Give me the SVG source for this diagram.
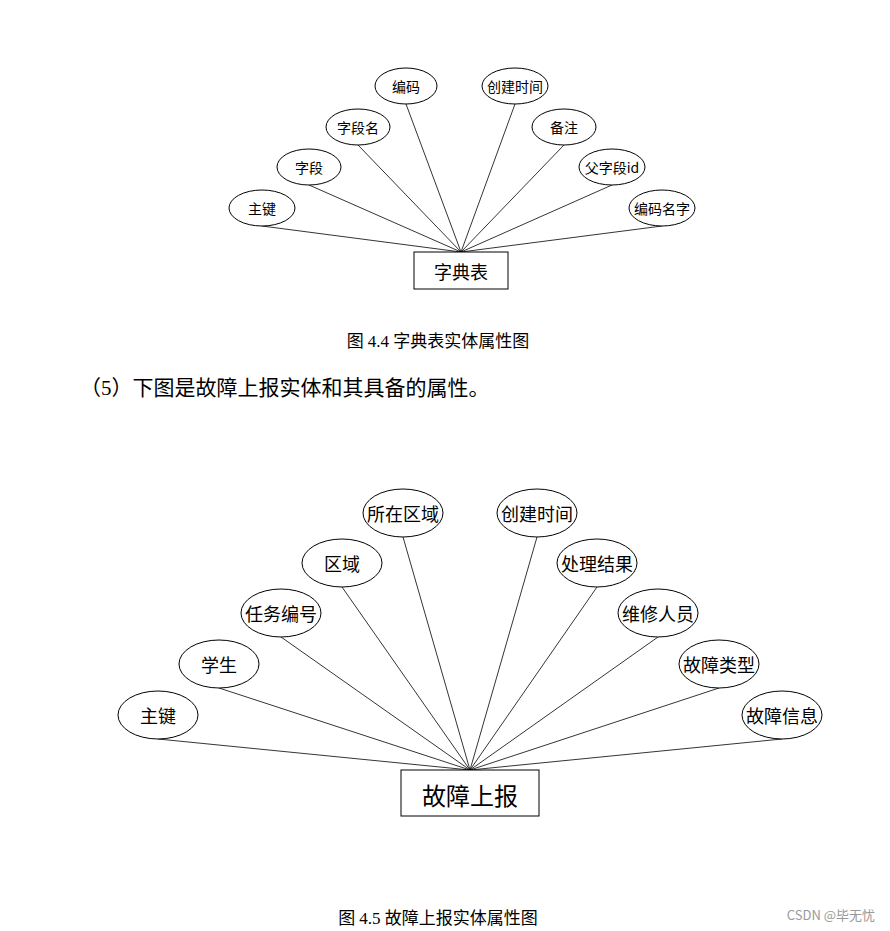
<svg xmlns="http://www.w3.org/2000/svg" width="890" height="931" viewBox="0 0 890 931">
<style>
.e{fill:#fff;stroke:#000;stroke-width:1}
.b{fill:#fff;stroke:#000;stroke-width:1}
.t{font-family:"Noto Sans CJK SC",sans-serif;text-anchor:middle;dominant-baseline:central;fill:#000}
.c{font-family:"Liberation Serif","Noto Sans CJK SC",serif;fill:#000}
#conn line{stroke:#000;stroke-width:0.8}
</style>
<rect width="890" height="931" fill="#fff"/>
<g id="conn">
<line x1="262" y1="226" x2="461" y2="252"/><line x1="309" y1="185" x2="461" y2="252"/>
<line x1="358" y1="145" x2="461" y2="252"/><line x1="406" y1="104" x2="461" y2="252"/>
<line x1="515" y1="104" x2="461" y2="252"/><line x1="564" y1="145" x2="461" y2="252"/>
<line x1="612" y1="185" x2="461" y2="252"/><line x1="662" y1="226" x2="461" y2="252"/>
<line x1="158" y1="739" x2="470" y2="770"/><line x1="219" y1="688" x2="470" y2="770"/>
<line x1="281" y1="637" x2="470" y2="770"/><line x1="342" y1="587" x2="470" y2="770"/>
<line x1="403" y1="537" x2="470" y2="770"/><line x1="537" y1="537" x2="470" y2="770"/>
<line x1="597" y1="587" x2="470" y2="770"/><line x1="658" y1="637" x2="470" y2="770"/>
<line x1="719" y1="688" x2="470" y2="770"/><line x1="782" y1="739" x2="470" y2="770"/>
</g>
<g id="n1"><ellipse class="e" cx="406" cy="86" rx="31" ry="18"/><text class="t" x="406" y="86" font-size="14">编码</text></g>
<g id="n2"><ellipse class="e" cx="515" cy="86" rx="33" ry="18"/><text class="t" x="515" y="86" font-size="14">创建时间</text></g>
<g id="n3"><ellipse class="e" cx="358" cy="127" rx="32" ry="18"/><text class="t" x="358" y="127" font-size="14">字段名</text></g>
<g id="n4"><ellipse class="e" cx="564" cy="127" rx="32" ry="18"/><text class="t" x="564" y="127" font-size="14">备注</text></g>
<g id="n5"><ellipse class="e" cx="309" cy="167" rx="32" ry="18"/><text class="t" x="309" y="167" font-size="14">字段</text></g>
<g id="n6"><ellipse class="e" cx="612" cy="167" rx="33" ry="18"/><text class="t" x="612" y="167" font-size="14">父字段id</text></g>
<g id="n7"><ellipse class="e" cx="262" cy="208" rx="33" ry="18"/><text class="t" x="262" y="208" font-size="14">主键</text></g>
<g id="n8"><ellipse class="e" cx="662" cy="208" rx="33" ry="18"/><text class="t" x="662" y="208" font-size="14">编码名字</text></g>
<g id="e1"><rect class="b" x="414" y="252" width="94" height="37"/><text class="t" x="461" y="271" font-size="18">字典表</text></g>
<g id="m1"><ellipse class="e" cx="403" cy="513" rx="40" ry="24"/><text class="t" x="403" y="513" font-size="18">所在区域</text></g>
<g id="m2"><ellipse class="e" cx="537" cy="513" rx="40" ry="24"/><text class="t" x="537" y="513" font-size="18">创建时间</text></g>
<g id="m3"><ellipse class="e" cx="342" cy="563" rx="40" ry="24"/><text class="t" x="342" y="563" font-size="18">区域</text></g>
<g id="m4"><ellipse class="e" cx="597" cy="563" rx="40" ry="24"/><text class="t" x="597" y="563" font-size="18">处理结果</text></g>
<g id="m5"><ellipse class="e" cx="281" cy="613" rx="40" ry="24"/><text class="t" x="281" y="613" font-size="18">任务编号</text></g>
<g id="m6"><ellipse class="e" cx="658" cy="613" rx="40" ry="24"/><text class="t" x="658" y="613" font-size="18">维修人员</text></g>
<g id="m7"><ellipse class="e" cx="219" cy="664" rx="40" ry="24"/><text class="t" x="219" y="664" font-size="18">学生</text></g>
<g id="m8"><ellipse class="e" cx="719" cy="664" rx="40" ry="24"/><text class="t" x="719" y="664" font-size="18">故障类型</text></g>
<g id="m9"><ellipse class="e" cx="158" cy="715" rx="40" ry="24"/><text class="t" x="158" y="715" font-size="18">主键</text></g>
<g id="m10"><ellipse class="e" cx="782" cy="715" rx="40" ry="24"/><text class="t" x="782" y="715" font-size="18">故障信息</text></g>
<g id="e2"><rect class="b" x="401" y="770" width="138" height="46"/><text class="t" x="470" y="794" font-size="24">故障上报</text></g>
<text class="c" x="438" y="347" font-size="17" text-anchor="middle">图 4.4 字典表实体属性图</text>
<text class="c" x="80" y="395" font-size="21">（5）下图是故障上报实体和其具备的属性。</text>
<text class="c" x="438" y="924" font-size="17" text-anchor="middle">图 4.5 故障上报实体属性图</text>
<text x="875" y="920" font-size="13" text-anchor="end" fill="#999" font-family="Noto Sans CJK SC,sans-serif">CSDN @毕无忧</text>
</svg>
